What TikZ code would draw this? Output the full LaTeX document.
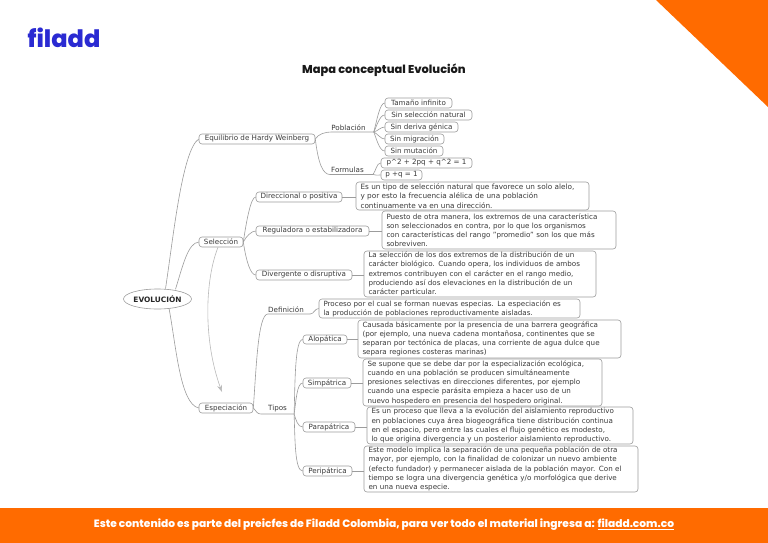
\documentclass[tikz,border=0pt]{standalone}
\usepackage{fontspec}
\setmainfont{DejaVu Sans}
\newfontfamily\headfont{Poppins}[BoldFont={* ExtraBold}]
\usetikzlibrary{arrows.meta,shapes.geometric}
\definecolor{ink}{HTML}{3A3A3A}
\definecolor{edge}{HTML}{9C9C9C}
\definecolor{brand}{HTML}{FF6B00}
\definecolor{logoblue}{HTML}{2A2AD2}
\newcommand{\bx}[6]{\pgfmathsetmacro{\bw}{#4-#2}\pgfmathsetmacro{\bh}{#5-#3}%
  \node[boxnode,minimum width=\bw pt,minimum height=\bh pt] (#1) at ({(#2+#4)/2},{(#3+#5)/2}) {#6};}
\newcommand{\tx}[6]{\pgfmathsetmacro{\bh}{#5-#3}\pgfmathsetmacro{\tw}{#4-#2-9}%
  \node[boxnode,inner xsep=4.5pt,text width=\tw pt,minimum height=\bh pt,align=left] (#1) at ({(#2+#4)/2},{(#3+#5)/2}) {#6};}
% \fan{from}{to}{first control offset}{end run-in}
\newcommand{\fan}[4]{\draw[link] (#1) .. controls +#3 and +(-#4,0) .. (#2);}
\tikzset{
  x=1pt,y=-1pt,
  boxnode/.style={draw=edge,line width=.6pt,rounded corners=3pt,text=ink,inner xsep=4pt,inner ysep=0pt,
    font=\fontsize{7.15}{9.2}\selectfont,fill=white},
  lab/.style={text=ink,inner xsep=6pt,inner ysep=1.5pt,font=\fontsize{7.15}{9.2}\selectfont,anchor=south},
  link/.style={draw=edge,line width=.6pt},
  cross/.style={draw=edge!70,line width=.6pt,-{Stealth[length=7pt,width=5pt]}},
}
\begin{document}
\begin{tikzpicture}
\useasboundingbox (0,0) rectangle (768,543);
\fill[white] (0,0) rectangle (768,543);
\fill[brand] (656,0) -- (768,107) -- (768,0) -- cycle;
\fill[brand] (0,508) rectangle (768,543);
\node[text=logoblue,inner sep=0pt,font=\headfont\bfseries\fontsize{24}{24}\selectfont] (logo) at (64,38) {filadd};
\node[text=black!90,inner sep=0pt,font=\headfont\bfseries\fontsize{11.4}{12}\selectfont] (title) at (384,70) {Mapa conceptual Evolución};
\node[text=white,inner sep=0pt,font=\headfont\bfseries\fontsize{10.65}{11}\selectfont] (foot) at (384,525) {Este contenido es parte del preicfes de Filadd Colombia, para ver todo el material ingresa a: \underline{filadd.com.co}};

\node[draw=edge,ellipse,line width=.6pt,minimum width=61pt,minimum height=20pt,inner sep=0pt,text=black!85,fill=white,font=\bfseries\fontsize{7.4}{9}\selectfont] (root) at (157.5,299) {EVOLUCIÓN};

\bx{hardy}{199}{134}{315}{144}{Equilibrio de Hardy Weinberg}
\bx{sele}{199}{237}{243}{247}{Selección}
\bx{espe}{199}{403}{253}{413}{Especiación}
\node[lab,inner xsep=8pt] (pob) at (348.5,132) {Población};
\node[lab,inner xsep=9pt] (form) at (347.5,174.5) {Formulas};
\bx{tam}{385}{98}{452}{108}{Tamaño infinito}
\bx{nat}{385}{110}{472}{120}{Sin selección natural}
\bx{der}{385}{122}{458}{132}{Sin deriva génica}
\bx{mig}{385}{134}{444}{144}{Sin migración}
\bx{mut}{385}{146}{443}{156}{Sin mutación}
\bx{pa}{381}{158}{472}{168}{p\^{}2 + 2pq + q\^{}2 = 1}
\bx{pb}{381}{170}{422}{180}{p +q = 1}
\bx{dire}{256}{192}{342}{202}{Direccional o positiva}
\bx{regu}{256}{226}{369}{236}{Reguladora o estabilizadora}
\bx{dive}{256}{270}{352}{280}{Divergente o disruptiva}
\tx{tdire}{356}{182}{589}{210}{\fontsize{7.3}{9.2}\selectfont Es un tipo de selección natural que favorece un solo alelo,\\y por esto la frecuencia alélica de una población\\continuamente va en una dirección.}
\tx{tregu}{382}{211}{616}{249}{Puesto de otra manera, los extremos de una característica\\son seleccionados en contra, por lo que los organismos\\con características del rango "promedio" son los que más\\sobreviven.}
\tx{tdive}{364}{251}{596}{297}{La selección de los dos extremos de la distribución de un\\carácter biológico. Cuando opera, los individuos de ambos\\extremos contribuyen con el carácter en el rango medio,\\produciendo así dos elevaciones en la distribución de un\\carácter particular.}
\node[lab] (defi) at (286,314) {Definición};
\node[lab,inner xsep=7pt] (tipo) at (277.5,414) {Tipos};
\tx{tdefi}{319}{299}{580}{318}{Proceso por el cual se forman nuevas especias. La especiación es\\la producción de poblaciones reproductivamente aisladas.}
\bx{alo}{303}{335}{347}{344}{Alopática}
\bx{sim}{303}{378}{351}{388}{Simpátrica}
\bx{par}{303}{422}{355}{432}{Parapátrica}
\bx{per}{303}{466}{352}{476}{Peripátrica}
\tx{talo}{358}{320}{621}{358}{Causada básicamente por la presencia de una barrera geográfica\\(por ejemplo, una nueva cadena montañosa, continentes que se\\separan por tectónica de placas, una corriente de agua dulce que\\separa regiones costeras marinas)}
\tx{tsim}{363}{359}{602}{406}{Se supone que se debe dar por la especialización ecológica,\\cuando en una población se producen simultáneamente\\presiones selectivas en direcciones diferentes, por ejemplo\\cuando una especie parásita empieza a hacer uso de un\\nuevo hospedero en presencia del hospedero original.}
\tx{tpar}{367}{407}{633}{444}{Es un proceso que lleva a la evolución del aislamiento reproductivo\\en poblaciones cuya área biogeográfica tiene distribución continua\\en el espacio, pero entre las cuales el flujo genético es modesto,\\lo que origina divergencia y un posterior aislamiento reproductivo.}
\tx{tper}{364}{446}{638}{492}{Este modelo implica la separación de una pequeña población de otra\\mayor, por ejemplo, con la finalidad de colonizar un nuevo ambiente\\(efecto fundador) y permanecer aislada de la población mayor. Con el\\tiempo se logra una divergencia genética y/o morfológica que derive\\en una nueva especie.}

% root branches
\path (root.north) ++(8,0) coordinate (r1);
\path (root.north) ++(18,0.5) coordinate (r2);
\path (root.south) ++(11.5,-1) coordinate (r3);
\draw[link] (r1) .. controls (173,240) and (182,150) .. (hardy.west);
\draw[link] (r2) .. controls (183,265) and (188,243) .. (sele.west);
\draw[link] (r3) .. controls (176,345) and (180,404) .. (espe.west);
\path (sele.south) ++(-3,0) coordinate (c1);
\coordinate (c2) at (222,392);
\draw[cross] (c1) .. controls (205,280) and (203,340) .. (c2);
% hardy
\draw[link] (hardy.east) .. controls +(3,-5) and +(-6,0) .. ([xshift=8pt]pob.south west) -- (pob.south east);
\draw[link] (hardy.east) .. controls +(3,25) and +(-7,0) .. ([xshift=8pt]form.south west) -- (form.south east);
\fan{pob.south east}{tam.west}{(3,-11)}{5}
\fan{pob.south east}{nat.west}{(3,-6)}{5}
\fan{pob.south east}{der.west}{(4,-1)}{4}
\fan{pob.south east}{mig.west}{(4,2)}{4}
\fan{pob.south east}{mut.west}{(3,8)}{5}
\fan{form.south east}{pa.west}{(3,-4)}{4}
\fan{form.south east}{pb.west}{(3,1)}{4}
% seleccion
\fan{sele.east}{dire.west}{(3,-20)}{5}
\fan{sele.east}{regu.west}{(3,-6)}{4}
\fan{sele.east}{dive.west}{(3,20)}{5}
\draw[link] (dire.east) -- (dire.east -| tdire.west);
\draw[link] (regu.east) -- (regu.east -| tregu.west);
\draw[link] (dive.east) -- (dive.east -| tdive.west);
% especiacion
\draw[link] (espe.east) .. controls +(3,-40) and +(-10,0) .. ([xshift=6pt]defi.south west) -- (defi.south east);
\draw[link] (espe.east) .. controls +(3,3) and +(-4,0) .. (tipo.south west) -- (tipo.south east);
\fan{defi.south east}{tdefi.west}{(4,0)}{4}
\fan{tipo.south east}{alo.west}{(1,-30)}{8}
\fan{tipo.south east}{sim.west}{(2,-12)}{6}
\fan{tipo.south east}{par.west}{(2,6)}{5}
\fan{tipo.south east}{per.west}{(1,25)}{8}
\draw[link] (alo.east) -- (alo.east -| talo.west);
\draw[link] (sim.east) -- (sim.east -| tsim.west);
\draw[link] (par.east) -- (par.east -| tpar.west);
\draw[link] (per.east) -- (per.east -| tper.west);
\end{tikzpicture}
\end{document}
